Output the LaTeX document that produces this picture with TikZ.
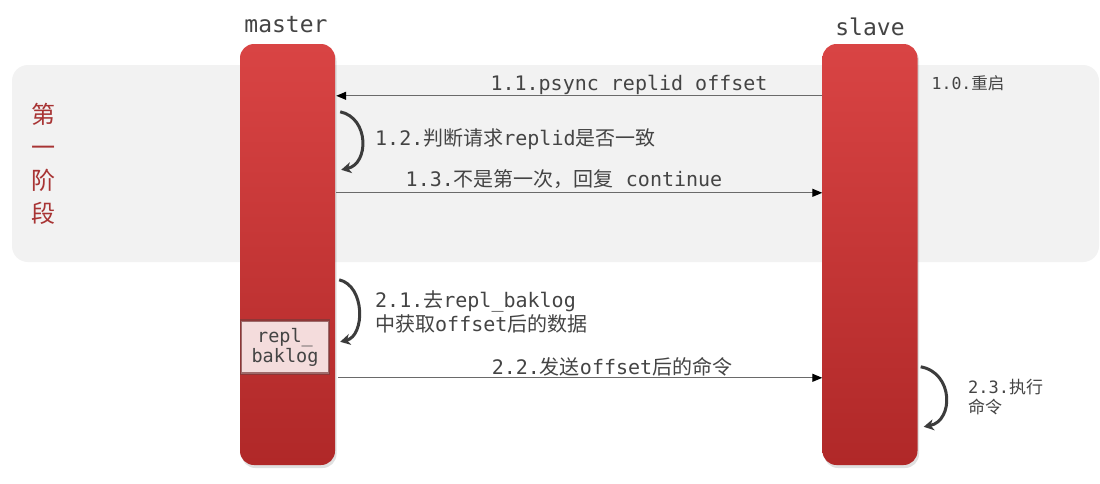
\documentclass[tikz,border=0pt]{standalone}
\usepackage{fontspec}
\setmonofont{DejaVu Sans Mono}
\newfontfamily\cjk{Noto Sans CJK SC}
\usetikzlibrary{arrows.meta,calc,shadows}
\definecolor{barTop}{HTML}{D94444}
\definecolor{barBot}{HTML}{B02828}
\definecolor{bandGrey}{HTML}{F2F2F2}
\definecolor{txtGrey}{HTML}{444444}
\definecolor{stageRed}{HTML}{A83434}
\definecolor{replFill}{HTML}{F4DCDC}
\definecolor{replEdge}{HTML}{7A3A3A}
\definecolor{lineGrey}{HTML}{6A6A6A}
\definecolor{curveGrey}{HTML}{3C3C3C}
\tikzset{
  bar/.style={rectangle, rounded corners=14pt, minimum width=95pt, minimum height=421pt,
    inner sep=0pt, top color=barTop, bottom color=barBot, draw=none,
    drop shadow={shadow xshift=1.5pt, shadow yshift=-3pt, opacity=0.12, fill=black}},
  head/.style={font=\ttfamily\fontsize{23}{26}\selectfont, text=txtGrey, inner sep=0pt},
  lbl/.style={font=\ttfamily\fontsize{20}{25}\selectfont, text=txtGrey, inner sep=0pt},
  small/.style={font=\ttfamily\fontsize{16.5}{20.5}\selectfont, text=txtGrey, inner sep=0pt, align=left},
  msg/.style={draw=lineGrey, line width=1.2pt, -{Triangle[length=10pt,width=8pt,fill=black,color=black]}},
  self/.style={draw=curveGrey, line width=3pt, -{Stealth[length=10pt,width=11pt,inset=3pt]}},
  replbox/.style={rectangle, minimum width=88pt, minimum height=53pt, inner sep=0pt,
    fill=replFill, draw=replEdge, draw opacity=0.7, line width=2.2pt, align=center,
    font=\ttfamily\fontsize{18.5}{20}\selectfont, text=txtGrey},
}
\begin{document}
\begin{tikzpicture}[x=1pt,y=-1pt]
\useasboundingbox (0,0) rectangle (1100,483);
\fill[white] (0,0) rectangle (1100,483);
% phase band
\fill[bandGrey, rounded corners=16pt] (12,65) rectangle (1099,262);
\node[font=\cjk\fontsize{24}{33}\selectfont, text=stageRed, align=center, inner sep=0pt] (stage) at (43,164) {第\\一\\阶\\段};
% lifelines
\node[bar] (master) at (287.5,254.5) {};
\node[bar] (slave) at (870,254.5) {};
\node[head] (mlabel) at (286,25) {master};
\node[head] (slabel) at (870,27) {slave};
\coordinate (mne) at (master.north east);
\coordinate (snw) at (slave.north west);
\coordinate (sne) at (slave.north east);
% repl_baklog
\node[replbox] (repl) at (285,347) {repl\_\\baklog};
% messages
\draw[msg] ($(snw)+(0,52)$) -- ($(mne)+(1,52)$);
\node[lbl] (l11) at (629,85) {1.1.psync replid offset};
\node[small] (l10) at (968,83) {1.0.{\cjk 重启}};
\draw[self] ($(mne)+(5,68)$) .. controls ($(mne)+(34,74)$) and ($(mne)+(34,120)$) .. ($(mne)+(6,126)$);
\node[lbl, anchor=west] (l12) at (375,139) {1.2.{\cjk 判断请求}replid{\cjk 是否一致}};
\draw[msg] ($(mne)+(1,149)$) -- ($(snw)+(0,149)$);
\node[lbl] (l13) at (564,179) {1.3.{\cjk 不是第一次，回复} continue};
\draw[self] ($(mne)+(4,236)$) .. controls ($(mne)+(30,242)$) and ($(mne)+(30,292)$) .. ($(mne)+(5,298)$);
\node[lbl, anchor=west, align=left, font=\ttfamily\fontsize{20}{24.5}\selectfont] (l21) at (375,312) {2.1.{\cjk 去}repl\_baklog\\{\cjk 中获取}offset{\cjk 后的数据}};
\draw[msg] ($(mne)+(3,334)$) -- ($(snw)+(0,334)$);
\node[lbl] (l22) at (612,367) {2.2.{\cjk 发送}offset{\cjk 后的命令}};
\draw[self] ($(sne)+(3,323)$) .. controls ($(sne)+(36,329)$) and ($(sne)+(36,377)$) .. ($(sne)+(6,383)$);
\node[small, anchor=west, font=\ttfamily\fontsize{17}{20.5}\selectfont] (l23) at (968,397) {2.3.{\cjk 执行}\\{\cjk 命令}};
\end{tikzpicture}
\end{document}
